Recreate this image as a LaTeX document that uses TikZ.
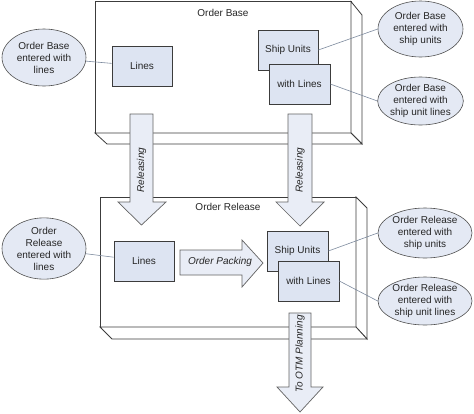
\documentclass[tikz,border=0pt]{standalone}
\usepackage{fontspec}
\setmainfont{Liberation Sans}
\usepackage{tikz}
\usetikzlibrary{arrows,shapes,positioning,calc}
\definecolor{boxfill}{RGB}{221,228,242}
\definecolor{arrfill}{RGB}{233,237,246}
\definecolor{ellfill}{RGB}{228,233,244}
\definecolor{edge}{RGB}{60,60,60}
\definecolor{connline}{RGB}{125,138,158}

\begin{document}
\begin{tikzpicture}[x = 1pt, y = -1pt,
  every node/.style = {font = \fontsize{10}{12}\selectfont, text = black!85},
  frame/.style = {draw = edge, fill = white, line width = .8pt},
  unitbox/.style = {draw = edge, fill = boxfill, line width = .7pt, minimum height = 40pt, inner sep = 0pt},
  note/.style = {ellipse, draw = edge!90, fill = ellfill, line width = .6pt, align = center, inner sep = 0pt},
  bigarrow/.style = {draw = edge!80, fill = arrfill, line width = .7pt, line join = miter},
  conn/.style = {draw = connline, line width = .6pt}]
\useasboundingbox (0,0) rectangle (474,413);

% order base box
\draw[frame] (95,1.5) rectangle (351,133);
\draw[frame] (351,1.5) -- (362,15) -- (362,144) -- (351,133) -- cycle;
\draw[frame] (95,133) -- (107,144) -- (362,144) -- (351,133) -- cycle;
\node (base) at (223,13) {Order Base};

% order release box
\draw[frame] (100,197) rectangle (356,327);
\draw[frame] (356,197) -- (367,208) -- (367,339) -- (356,327) -- cycle;
\draw[frame] (100,327) -- (112,339) -- (367,339) -- (356,327) -- cycle;
\node (release) at (228,207) {Order Release};

% units inside order base
\node[unitbox, minimum width = 60pt] (linesB) at (142,66) {Lines};
\node[unitbox, minimum width = 60pt] (suB) at (288,50) {Ship Units};
\node[unitbox, minimum width = 61pt] (wlB) at (299.5,84) {with Lines};

% units inside order release
\node[unitbox, minimum width = 60pt] (linesR) at (144,261) {Lines};
\node[unitbox, minimum width = 61pt] (suR) at (297.5,251) {Ship Units};
\node[unitbox, minimum width = 61pt] (wlR) at (308.5,281) {with Lines};

% arrows
\draw[bigarrow] (130,114) -- (153,114) -- (153,202) -- (166,202) -- (141.5,225)
  -- (118,202) -- (130,202) -- cycle;
\node[rotate = 90, font = \fontsize{10}{12}\itshape] (relL) at (141.5,170) {Releasing};
\draw[bigarrow] (288,114) -- (312,114) -- (312,202) -- (324,202) -- (300,226)
  -- (276,202) -- (288,202) -- cycle;
\node[rotate = 90, font = \fontsize{10}{12}\itshape] (relR) at (300,170) {Releasing};
\draw[bigarrow] (289,313) -- (311,313) -- (311,387) -- (323,387) -- (300,412)
  -- (277,387) -- (289,387) -- cycle;
\node[rotate = 90, font = \fontsize{10}{12}\itshape] (otm) at (300,354) {To OTM Planning};
\draw[bigarrow] (180,250) -- (242,250) -- (242,240) -- (263,263) -- (242,287)
  -- (242,275) -- (180,275) -- cycle;
\node[font = \fontsize{10}{12}\itshape] (pack) at (220,262) {Order Packing};

% notes
\node[note, minimum width = 84pt, minimum height = 57pt] (nLinesB) at (44,57.5) {Order Base\\entered with\\lines};
\node[note, minimum width = 85pt, minimum height = 56pt] (nSuB) at (420.5,29) {Order Base\\entered with\\ship units};
\node[note, minimum width = 85pt, minimum height = 48pt] (nWlB) at (420.5,101) {Order Base\\entered with\\ship unit lines};
\node[note, minimum width = 84pt, minimum height = 57pt] (nLinesR) at (44,248.5) {Order\\Release\\entered with\\lines};
\node[note, minimum width = 94pt, minimum height = 50pt] (nSuR) at (425,233) {Order Release\\entered with\\ship units};
\node[note, minimum width = 94pt, minimum height = 48pt] (nWlR) at (425,301) {Order Release\\entered with\\ship unit lines};

\draw[conn] (nLinesB) -- (linesB);
\draw[conn] (suB.east) -- (nSuB.west);
\draw[conn] (wlB.east) -- (nWlB.west);
\draw[conn] (nLinesR) -- (linesR);
\draw[conn] (suR.east) -- (nSuR.west);
\draw[conn] (wlR.east) -- (nWlR.west);
\end{tikzpicture}
\end{document}
